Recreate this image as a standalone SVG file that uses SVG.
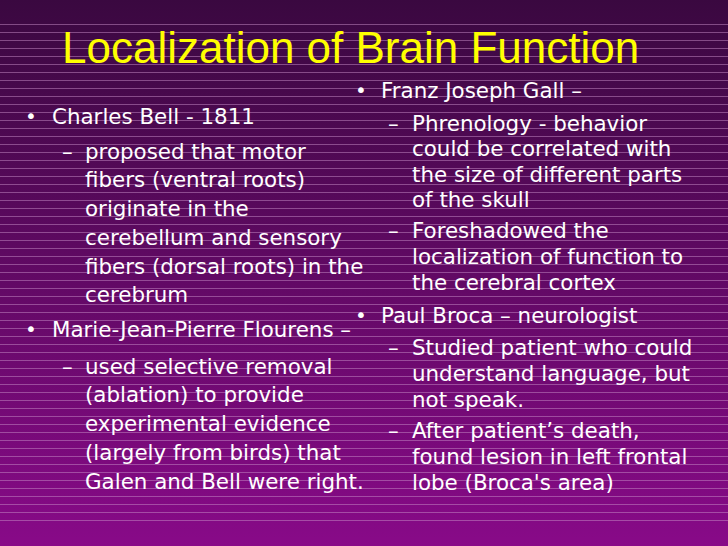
<svg xmlns="http://www.w3.org/2000/svg" width="728" height="546" viewBox="0 0 728 546">
<defs>
<linearGradient id="bg" x1="0" y1="0" x2="0" y2="1"><stop offset="0" stop-color="#3a0840"/><stop offset="1" stop-color="#880a88"/></linearGradient>
<pattern id="ln" width="728" height="8" patternUnits="userSpaceOnUse" y="0"><rect y="0" width="728" height="1" fill="#c88ec8" opacity="0.5"/></pattern>
</defs>
<style>
text{font-family:"DejaVu Sans",Verdana,sans-serif;font-size:21.4px;fill:#fff}
.b{font-size:20px}
.t{font-family:"Liberation Sans",Arial,sans-serif;font-size:44px;fill:#ffff00}
</style>
<rect width="728" height="546" fill="url(#bg)"/>
<rect y="24" width="728" height="500" fill="url(#ln)"/>
<text class="t" x="62" y="63">Localization of Brain Function</text>
<g id="left">
<text class="b" x="25" y="123">•</text><text x="52" y="124">Charles Bell - 1811</text>
<text x="62" y="159">–</text>
<text x="85" y="159">proposed that motor</text>
<text x="85" y="187">fibers (ventral roots)</text>
<text x="85" y="216">originate in the</text>
<text x="85" y="245">cerebellum and sensory</text>
<text x="85" y="274">fibers (dorsal roots) in the</text>
<text x="85" y="302">cerebrum</text>
<text class="b" x="25" y="336">•</text><text x="52" y="337">Marie-Jean-Pierre Flourens –</text>
<text x="62" y="374">–</text>
<text x="85" y="374">used selective removal</text>
<text x="85" y="402">(ablation) to provide</text>
<text x="85" y="431">experimental evidence</text>
<text x="85" y="460">(largely from birds) that</text>
<text x="85" y="489">Galen and Bell were right.</text>
</g>
<g id="right">
<text class="b" x="355" y="97">•</text><text x="381" y="98">Franz Joseph Gall –</text>
<text x="388" y="131">–</text>
<text x="412" y="131">Phrenology - behavior</text>
<text x="412" y="156">could be correlated with</text>
<text x="412" y="182">the size of different parts</text>
<text x="412" y="207">of the skull</text>
<text x="388" y="238">–</text>
<text x="412" y="238">Foreshadowed the</text>
<text x="412" y="264">localization of function to</text>
<text x="412" y="290">the cerebral cortex</text>
<text class="b" x="355" y="322">•</text><text x="381" y="323">Paul Broca – neurologist</text>
<text x="388" y="355">–</text>
<text x="412" y="355">Studied patient who could</text>
<text x="412" y="381">understand language, but</text>
<text x="412" y="407">not speak.</text>
<text x="388" y="438">–</text>
<text x="412" y="438">After patient’s death,</text>
<text x="412" y="464">found lesion in left frontal</text>
<text x="412" y="490">lobe (Broca's area)</text>
</g>
</svg>
